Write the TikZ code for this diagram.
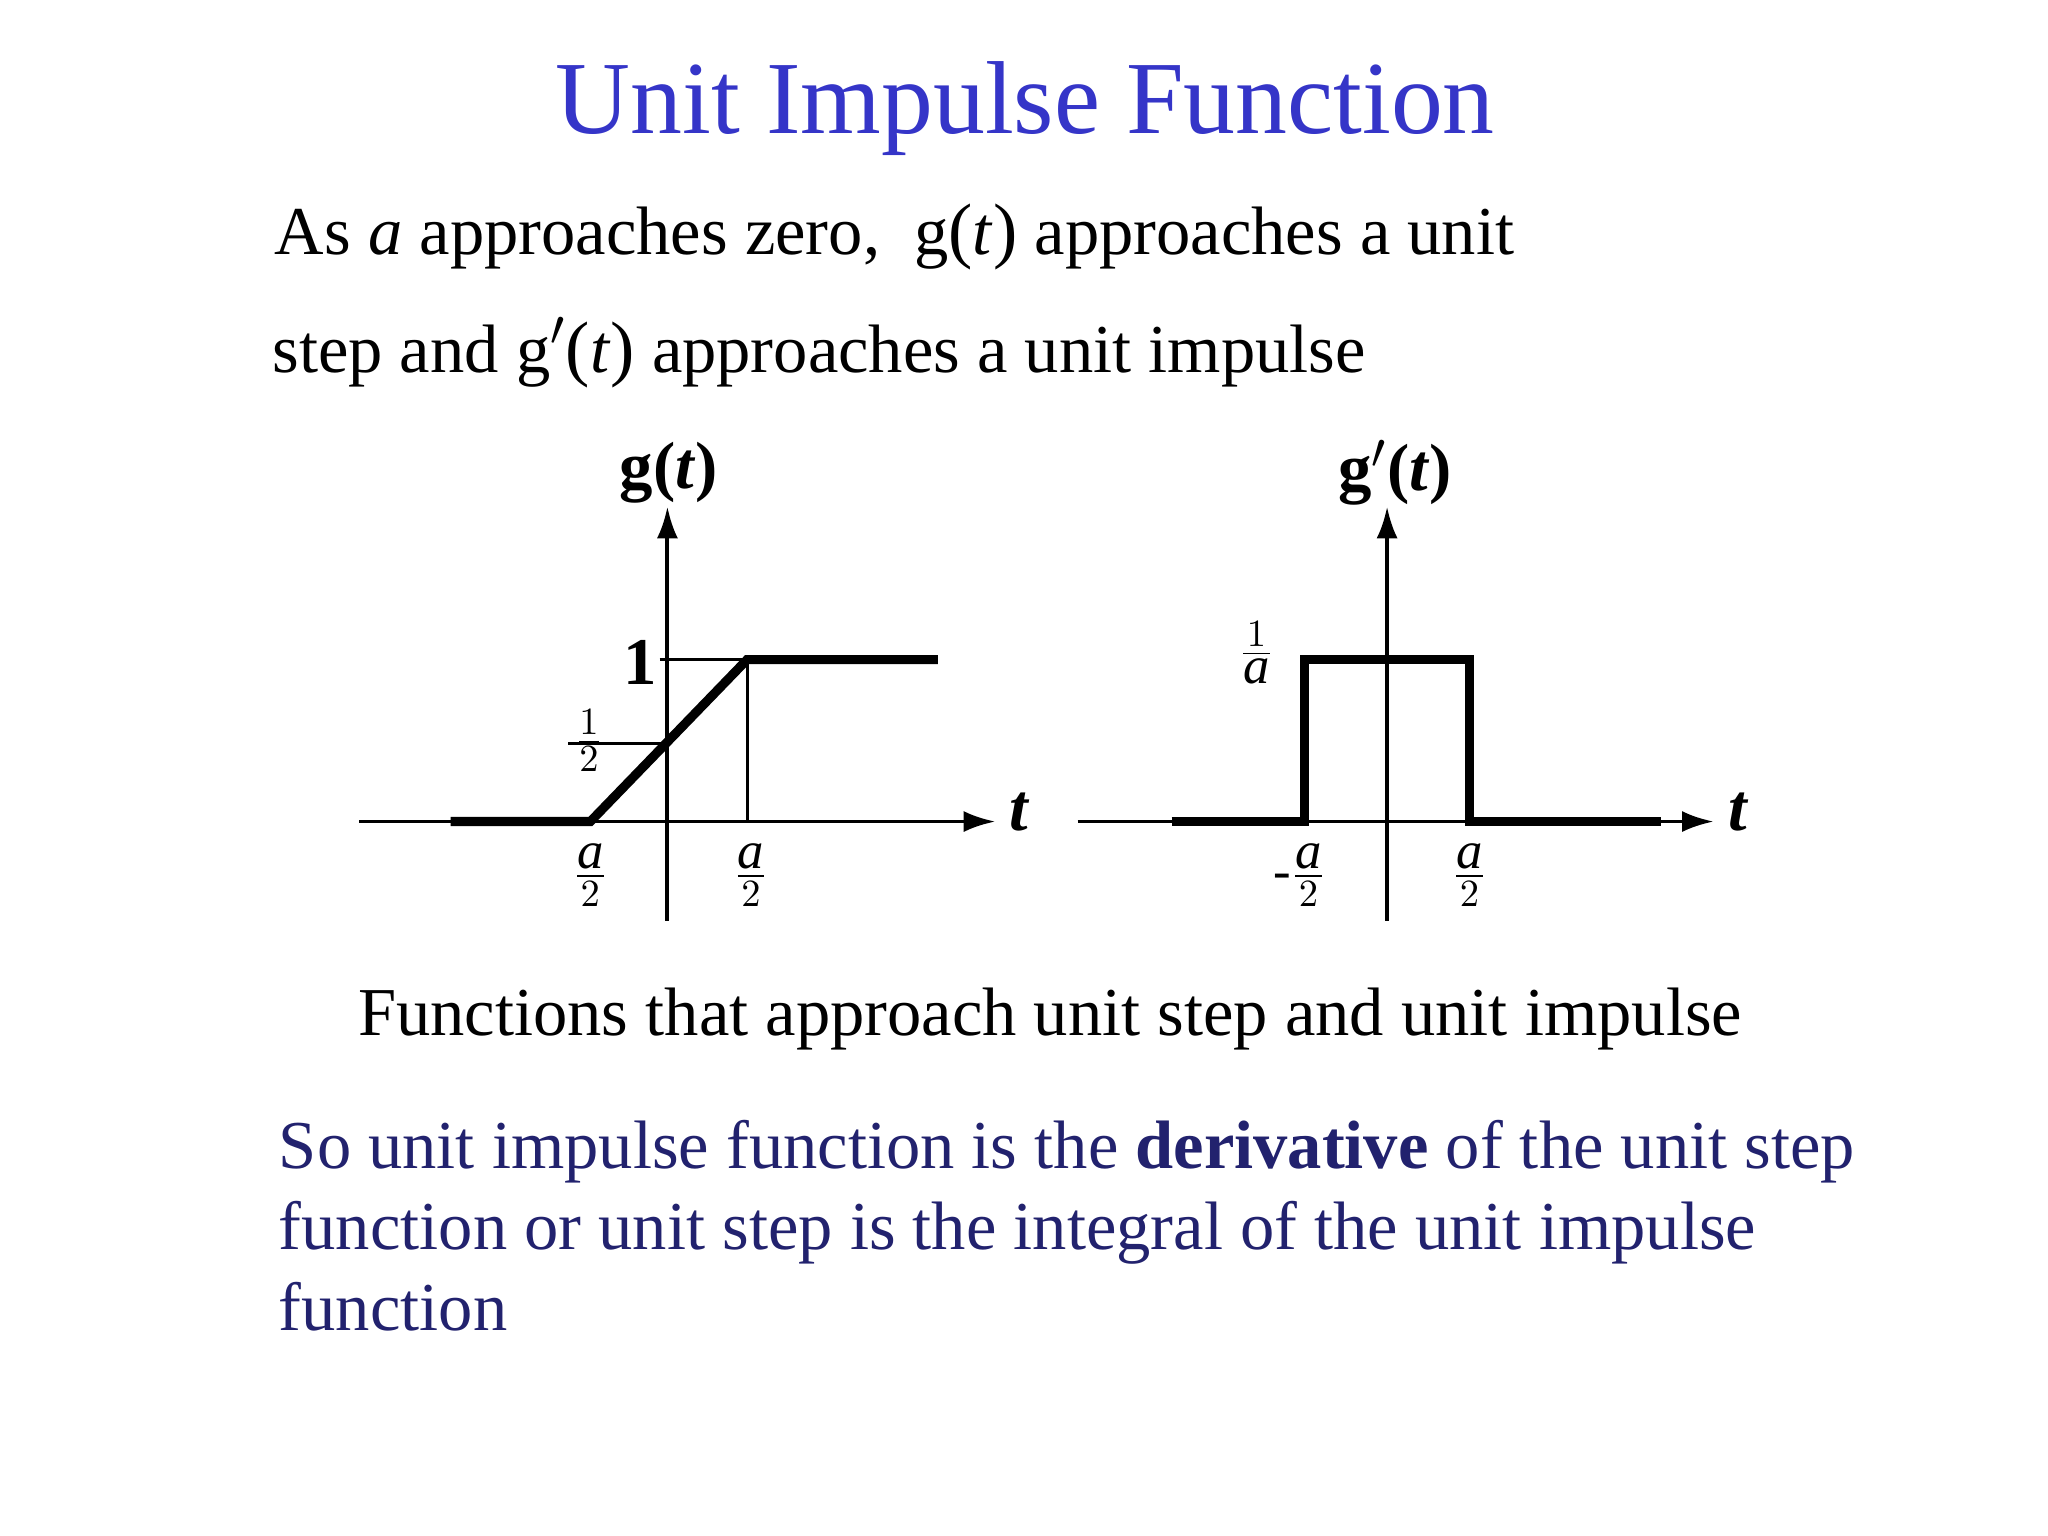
\documentclass[tikz,border=0pt]{standalone}
\usepackage{fontspec}
\setmainfont{Liberation Serif}
\usetikzlibrary{arrows.meta}
\definecolor{titleblue}{HTML}{3535C8}
\definecolor{navy}{HTML}{22226E}
\tikzset{
  body/.style={anchor=base west,inner sep=0pt,font=\fontsize{19.5}{23}\selectfont},
  axis/.style={line width=1.1pt,-{Latex[length=9pt,width=6pt]}},
  curve/.style={line width=2.6pt},
  guide/.style={line width=0.8pt},
  lbl/.style={inner sep=0pt,font=\fontsize{15}{16}\selectfont},
}
\newcommand{\halffrac}[1]{$\frac{\textit{#1}}{2}$}
\begin{document}
\begin{tikzpicture}[x=0.01306cm,y=-0.01306cm]
  \useasboundingbox (0,0) rectangle (1568,1176);
  % Title and text
  \node[inner sep=0pt,text=titleblue,font=\fontsize{29.5}{33}\selectfont] (title) at (785,83) {Unit Impulse Function};
  \node[body] (line1) at (210,195) {As \textit{a} approaches zero, \ g{\huge(}\textit{t}{\huge)} approaches a unit};
  \node[body] (line2) at (208,285) {step and g${}'${\huge(}\textit{t}{\huge)} approaches a unit impulse};
  % Left graph: g(t)
  \draw[axis] (275,629) -- (762,629);
  \draw[axis] (511,705) -- (511,388);
  \draw[guide] (572,505) -- (572,629);
  \draw[guide] (505,505) -- (572,505);
  \draw[guide] (435,569) -- (511,569);
  \draw[curve] (345,629) -- (452,629) -- (572,505) -- (718,505);
  \node[font=\fontsize{19}{22}\selectfont\bfseries] (gt) at (512,362) {g(\textit{t})};
  \node[font=\fontsize{19}{22}\selectfont\bfseries,inner sep=0pt] (tl) at (781,622) {\textit{t}};
  \node[font=\fontsize{19}{22}\selectfont\bfseries,inner sep=0pt] (one) at (490,507) {1};
  \node[lbl] (half) at (451,567) {$\frac{1}{2}$};
  \node[lbl] (lneg) at (452,670) {\halffrac{a}};
  \node[lbl] (lpos) at (575,670) {\halffrac{a}};
  % Right graph: g'(t)
  \draw[axis] (825,629) -- (1312,629);
  \draw[axis] (1062,705) -- (1062,388);
  \draw[curve] (897,629) -- (999,629) -- (999,505) -- (1125,505) -- (1125,629) -- (1272,629);
  \node[font=\fontsize{19}{22}\selectfont\bfseries] (gpt) at (1068,362) {g$'$(\textit{t})};
  \node[font=\fontsize{19}{22}\selectfont\bfseries,inner sep=0pt] (tr) at (1331,622) {\textit{t}};
  \node[lbl] (inva) at (962,500) {$\frac{1}{\textit{a}}$};
  \node[lbl] (rneg) at (995,670) {-\halffrac{a}};
  \node[lbl] (rpos) at (1125,670) {\halffrac{a}};
  % Caption and conclusion
  \node[inner sep=0pt,font=\fontsize{19.5}{23}\selectfont] (caption) at (804,780) {Functions that approach unit step and unit impulse};
  \node[body,text=navy] (c1) at (213,895) {So unit impulse function is the \textbf{derivative} of the unit step};
  \node[body,text=navy] (c2) at (213,957) {function or unit step is the integral of the unit impulse};
  \node[body,text=navy] (c3) at (213,1019) {function};
\end{tikzpicture}
\end{document}
